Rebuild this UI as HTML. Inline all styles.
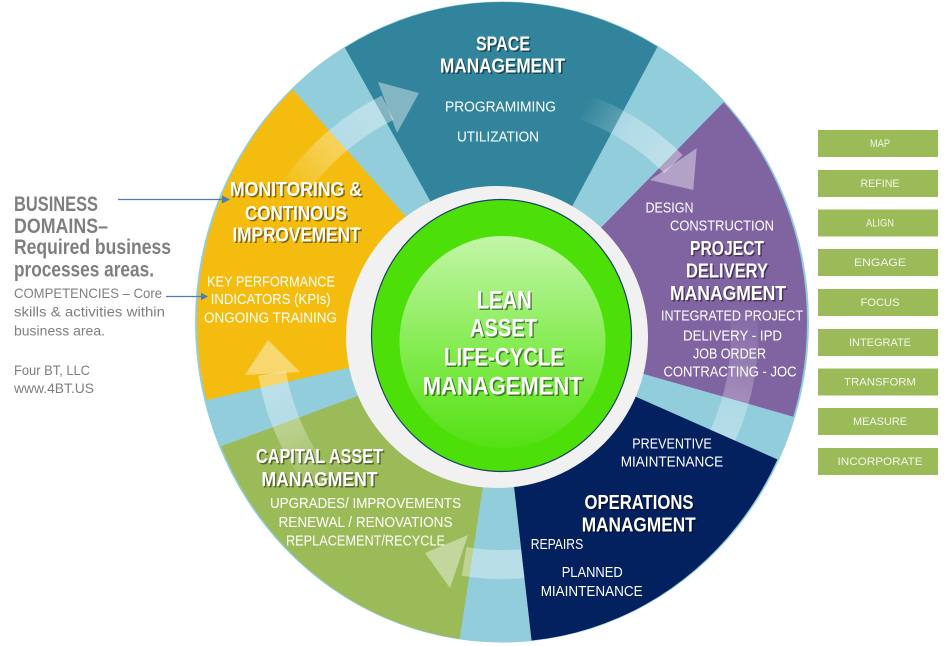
<!DOCTYPE html>
<html><head><meta charset="utf-8"><style>
html,body{margin:0;padding:0;background:#fff;width:950px;height:646px;overflow:hidden;}
svg{display:block;overflow:hidden;}
.t{font-family:"Liberation Sans Narrow","Liberation Sans",sans-serif;font-weight:bold;fill:#fff;font-size:20px;}
.ts{font-family:"Liberation Sans Narrow","Liberation Sans",sans-serif;font-weight:bold;fill:#000;fill-opacity:0.45;font-size:20px;}
.c{font-size:25px;}
.s{font-family:"Liberation Sans",sans-serif;fill:#fff;font-size:14.5px;}
.l{font-family:"Liberation Sans",sans-serif;fill:#7f7f7f;}
.b{font-family:"Liberation Sans Narrow","Liberation Sans",sans-serif;fill:#f3f6ea;font-size:11px;}
</style></head><body>
<svg width="950" height="646" viewBox="0 0 950 646" xmlns="http://www.w3.org/2000/svg">
<defs>
<clipPath id="ring"><ellipse cx="502" cy="322" rx="305" ry="320"/></clipPath>
<linearGradient id="hl" x1="0" y1="0" x2="0" y2="1">
<stop offset="0" stop-color="#c3f6a8"/>
<stop offset="0.55" stop-color="#82eb4e"/>
<stop offset="1" stop-color="#55e014"/>
</linearGradient>
<linearGradient id="g1" gradientUnits="userSpaceOnUse" x1="285" y1="200" x2="388" y2="107">
<stop offset="0" stop-color="#fff" stop-opacity="0"/><stop offset="0.5" stop-color="#fff" stop-opacity="0.3"/><stop offset="1" stop-color="#fff" stop-opacity="0.4"/>
</linearGradient>
<linearGradient id="g2" gradientUnits="userSpaceOnUse" x1="582" y1="108" x2="673" y2="164">
<stop offset="0" stop-color="#fff" stop-opacity="0"/><stop offset="0.5" stop-color="#fff" stop-opacity="0.3"/><stop offset="1" stop-color="#fff" stop-opacity="0.4"/>
</linearGradient>
<linearGradient id="g3" gradientUnits="userSpaceOnUse" x1="742" y1="300" x2="712" y2="450">
<stop offset="0" stop-color="#fff" stop-opacity="0"/><stop offset="0.6" stop-color="#fff" stop-opacity="0.25"/><stop offset="1" stop-color="#fff" stop-opacity="0.35"/>
</linearGradient>
<linearGradient id="g5" gradientUnits="userSpaceOnUse" x1="322" y1="488" x2="272" y2="373">
<stop offset="0" stop-color="#fff" stop-opacity="0"/><stop offset="0.5" stop-color="#fff" stop-opacity="0.3"/><stop offset="1" stop-color="#fff" stop-opacity="0.4"/>
</linearGradient>
</defs>

<!-- outer light blue ring -->
<ellipse cx="502" cy="322" rx="307" ry="320.5" fill="#92cddc"/>

<g clip-path="url(#ring)">
<!-- yellow -->
<polygon fill="#f3bc0e" points="486.7,336.6 0,446.8 0,0 212.75,0 480.3,300"/>
<!-- blue -->
<polygon fill="#31849b" points="504.3,334.1 318.3,0 682.5,0 503.3,335.1"/>
<!-- purple -->
<polygon fill="#8064a2" points="503.4,327.4 823.7,0 950,0 950,461.5 513.3,336.7"/>
<!-- green -->
<polygon fill="#9bbb59" points="503.4,353.3 458.6,646 0,646 0,527.9 500,343.3"/>
<!-- arrows under navy -->
<path fill="url(#g3)" d="M 755.5,299.4 A 256 256 0 0 1 723.7,463 L 700.3,449.5 A 229 229 0 0 0 728.7,303.2 Z"/>
<path fill="#fff" fill-opacity="0.35" d="M 565.2,570.7 A 244 244 0 0 1 461.7,575.7 L 466.5,547.1 A 215 215 0 0 0 557.6,542.7 Z"/>
<path fill="#fff" fill-opacity="0.4" d="M 468,535 L 425,553 L 450,588 Z"/>
<!-- navy -->
<polygon fill="#03205f" points="511.6,341.7 950,535.8 950,646 532.2,646 498.3,348.3"/>
</g>

<!-- arrows over segments -->
<path fill="url(#g1)" d="M 274.7,193 A 268 268 0 0 1 381.6,95.6 L 393.7,119.7 A 241 241 0 0 0 297.6,207.3 Z"/>
<path fill="#fff" fill-opacity="0.4" d="M 378,82 L 419,93 L 397,133 Z"/>
<path fill="url(#g2)" d="M 589.2,95.3 A 255 255 0 0 1 682.6,155 L 664.2,173.3 A 229 229 0 0 0 580.3,119.7 Z"/>
<path fill="#fff" fill-opacity="0.4" d="M 696.7,148.3 L 693.3,190 L 650,180 Z"/>
<path fill="url(#g5)" d="M 312.8,493.8 A 247 247 0 0 1 258.4,375.8 L 286,371.1 A 219 219 0 0 0 334.2,475.8 Z"/>
<path fill="#fff" fill-opacity="0.4" d="M 245,375 L 268,340 L 300,372 Z"/>

<!-- center -->
<circle cx="497" cy="337" r="151" fill="#f1f1f1"/>
<ellipse cx="501.5" cy="335.5" rx="130" ry="136" fill="#4ddf08" stroke="#1d3f6b" stroke-width="1.2"/>
<ellipse cx="502.5" cy="342" rx="103" ry="106" fill="url(#hl)"/>

<!-- center text -->
<g class="ts c" transform="translate(1.5,1.5)">
<text x="476.7" y="308.5" textLength="55" lengthAdjust="spacingAndGlyphs">LEAN</text>
<text x="470" y="336.5" textLength="67" lengthAdjust="spacingAndGlyphs">ASSET</text>
<text x="444" y="365.5" textLength="120" lengthAdjust="spacingAndGlyphs">LIFE-CYCLE</text>
<text x="422.7" y="394.5" textLength="160" lengthAdjust="spacingAndGlyphs">MANAGEMENT</text>
</g>
<g class="t c">
<text x="476.7" y="308.5" textLength="55" lengthAdjust="spacingAndGlyphs">LEAN</text>
<text x="470" y="336.5" textLength="67" lengthAdjust="spacingAndGlyphs">ASSET</text>
<text x="444" y="365.5" textLength="120" lengthAdjust="spacingAndGlyphs">LIFE-CYCLE</text>
<text x="422.7" y="394.5" textLength="160" lengthAdjust="spacingAndGlyphs">MANAGEMENT</text>
</g>

<!-- segment titles: shadow -->
<g class="ts" transform="translate(1.5,1.5)">
<text x="476" y="50.5" textLength="54" lengthAdjust="spacingAndGlyphs">SPACE</text>
<text x="440" y="72.5" textLength="125" lengthAdjust="spacingAndGlyphs">MANAGEMENT</text>
<text x="230" y="196" textLength="132" lengthAdjust="spacingAndGlyphs">MONITORING &amp;</text>
<text x="245" y="220" textLength="102" lengthAdjust="spacingAndGlyphs">CONTINOUS</text>
<text x="232.5" y="241.5" textLength="128" lengthAdjust="spacingAndGlyphs">IMPROVEMENT</text>
<text x="690" y="255" textLength="74" lengthAdjust="spacingAndGlyphs">PROJECT</text>
<text x="686" y="277.5" textLength="82" lengthAdjust="spacingAndGlyphs">DELIVERY</text>
<text x="670" y="300" textLength="116" lengthAdjust="spacingAndGlyphs">MANAGMENT</text>
<text x="256" y="463" textLength="127" lengthAdjust="spacingAndGlyphs">CAPITAL ASSET</text>
<text x="261.5" y="486" textLength="116" lengthAdjust="spacingAndGlyphs">MANAGMENT</text>
<text x="584.5" y="509" textLength="109" lengthAdjust="spacingAndGlyphs">OPERATIONS</text>
<text x="581.7" y="531.5" textLength="114" lengthAdjust="spacingAndGlyphs">MANAGMENT</text>
</g>
<g class="t">
<text x="476" y="50.5" textLength="54" lengthAdjust="spacingAndGlyphs">SPACE</text>
<text x="440" y="72.5" textLength="125" lengthAdjust="spacingAndGlyphs">MANAGEMENT</text>
<text x="230" y="196" textLength="132" lengthAdjust="spacingAndGlyphs">MONITORING &amp;</text>
<text x="245" y="220" textLength="102" lengthAdjust="spacingAndGlyphs">CONTINOUS</text>
<text x="232.5" y="241.5" textLength="128" lengthAdjust="spacingAndGlyphs">IMPROVEMENT</text>
<text x="690" y="255" textLength="74" lengthAdjust="spacingAndGlyphs">PROJECT</text>
<text x="686" y="277.5" textLength="82" lengthAdjust="spacingAndGlyphs">DELIVERY</text>
<text x="670" y="300" textLength="116" lengthAdjust="spacingAndGlyphs">MANAGMENT</text>
<text x="256" y="463" textLength="127" lengthAdjust="spacingAndGlyphs">CAPITAL ASSET</text>
<text x="261.5" y="486" textLength="116" lengthAdjust="spacingAndGlyphs">MANAGMENT</text>
<text x="584.5" y="509" textLength="109" lengthAdjust="spacingAndGlyphs">OPERATIONS</text>
<text x="581.7" y="531.5" textLength="114" lengthAdjust="spacingAndGlyphs">MANAGMENT</text>
</g>

<!-- small white text -->
<g class="s">
<text x="445" y="111.5" textLength="111" lengthAdjust="spacingAndGlyphs">PROGRAMIMING</text>
<text x="457" y="141.5" textLength="82" lengthAdjust="spacingAndGlyphs">UTILIZATION</text>
<text x="207" y="286.5" textLength="128" lengthAdjust="spacingAndGlyphs">KEY PERFORMANCE</text>
<text x="210.7" y="304" textLength="120" lengthAdjust="spacingAndGlyphs">INDICATORS (KPIs)</text>
<text x="204" y="322.5" textLength="133" lengthAdjust="spacingAndGlyphs">ONGOING TRAINING</text>
<text x="645.5" y="212.5" textLength="48" lengthAdjust="spacingAndGlyphs">DESIGN</text>
<text x="670" y="230.5" textLength="104" lengthAdjust="spacingAndGlyphs">CONSTRUCTION</text>
<text x="661" y="320.5" textLength="142" lengthAdjust="spacingAndGlyphs">INTEGRATED PROJECT</text>
<text x="683" y="340.5" textLength="99" lengthAdjust="spacingAndGlyphs">DELIVERY -  IPD</text>
<text x="693" y="358.5" textLength="73" lengthAdjust="spacingAndGlyphs">JOB ORDER</text>
<text x="663.5" y="376.5" textLength="133" lengthAdjust="spacingAndGlyphs">CONTRACTING - JOC</text>
<text x="270" y="508" textLength="191" lengthAdjust="spacingAndGlyphs">UPGRADES/ IMPROVEMENTS</text>
<text x="278.5" y="527" textLength="174" lengthAdjust="spacingAndGlyphs">RENEWAL / RENOVATIONS</text>
<text x="286" y="545.5" textLength="159" lengthAdjust="spacingAndGlyphs">REPLACEMENT/RECYCLE</text>
<text x="632.3" y="448.3" textLength="79.5" lengthAdjust="spacingAndGlyphs">PREVENTIVE</text>
<text x="620.7" y="466.7" textLength="102.5" lengthAdjust="spacingAndGlyphs">MIAINTENANCE</text>
<text x="530.7" y="549" textLength="52.5" lengthAdjust="spacingAndGlyphs">REPAIRS</text>
<text x="561.7" y="577" textLength="61" lengthAdjust="spacingAndGlyphs">PLANNED</text>
<text x="540.7" y="596" textLength="102" lengthAdjust="spacingAndGlyphs">MIAINTENANCE</text>
</g>

<!-- left text -->
<g class="l" font-weight="bold" font-size="21">
<text x="14" y="211" textLength="84" lengthAdjust="spacingAndGlyphs">BUSINESS</text>
<text x="14" y="233" textLength="94" lengthAdjust="spacingAndGlyphs">DOMAINS–</text>
<text x="14" y="254" textLength="157" lengthAdjust="spacingAndGlyphs">Required business</text>
<text x="14" y="276.5" textLength="140" lengthAdjust="spacingAndGlyphs">processes areas.</text>
</g>
<g class="l" font-size="14">
<text x="14" y="298" textLength="148" lengthAdjust="spacingAndGlyphs">COMPETENCIES – Core</text>
<text x="14" y="316.7" textLength="151" lengthAdjust="spacingAndGlyphs">skills &amp; activities within</text>
<text x="14" y="335.7" textLength="91" lengthAdjust="spacingAndGlyphs">business area.</text>
<text x="14" y="375" textLength="76" lengthAdjust="spacingAndGlyphs">Four BT, LLC</text>
<text x="14" y="393" textLength="80" lengthAdjust="spacingAndGlyphs">www.4BT.US</text>
</g>

<!-- connectors -->
<line x1="118" y1="199.5" x2="224" y2="199.5" stroke="#4a7ebb" stroke-width="1.3"/>
<polygon points="222,195.5 230,199.5 222,203.5" fill="#4a7ebb"/>
<line x1="166" y1="296.5" x2="203" y2="296.5" stroke="#4a7ebb" stroke-width="1.3"/>
<polygon points="201,292.8 208,296.5 201,300.2" fill="#4a7ebb"/>

<!-- right boxes -->
<g fill="#9bbb59">
<rect x="818" y="130" width="120" height="27"/>
<rect x="818" y="170" width="120" height="27"/>
<rect x="818" y="209.5" width="120" height="27"/>
<rect x="818" y="249" width="120" height="27"/>
<rect x="818" y="289" width="120" height="27"/>
<rect x="818" y="329" width="120" height="27"/>
<rect x="818" y="368.5" width="120" height="27"/>
<rect x="818" y="408" width="120" height="27"/>
<rect x="818" y="448" width="120" height="27"/>
</g>
<g class="b">
<text x="870" y="147" textLength="20" lengthAdjust="spacingAndGlyphs">MAP</text>
<text x="860.5" y="187" textLength="39" lengthAdjust="spacingAndGlyphs">REFINE</text>
<text x="866" y="226.5" textLength="28" lengthAdjust="spacingAndGlyphs">ALIGN</text>
<text x="854" y="266" textLength="52" lengthAdjust="spacingAndGlyphs">ENGAGE</text>
<text x="860.5" y="306" textLength="39" lengthAdjust="spacingAndGlyphs">FOCUS</text>
<text x="849" y="346" textLength="62" lengthAdjust="spacingAndGlyphs">INTEGRATE</text>
<text x="844" y="385.5" textLength="72" lengthAdjust="spacingAndGlyphs">TRANSFORM</text>
<text x="853" y="425" textLength="54" lengthAdjust="spacingAndGlyphs">MEASURE</text>
<text x="837.5" y="465" textLength="85" lengthAdjust="spacingAndGlyphs">INCORPORATE</text>
</g>
</svg>
</body></html>
